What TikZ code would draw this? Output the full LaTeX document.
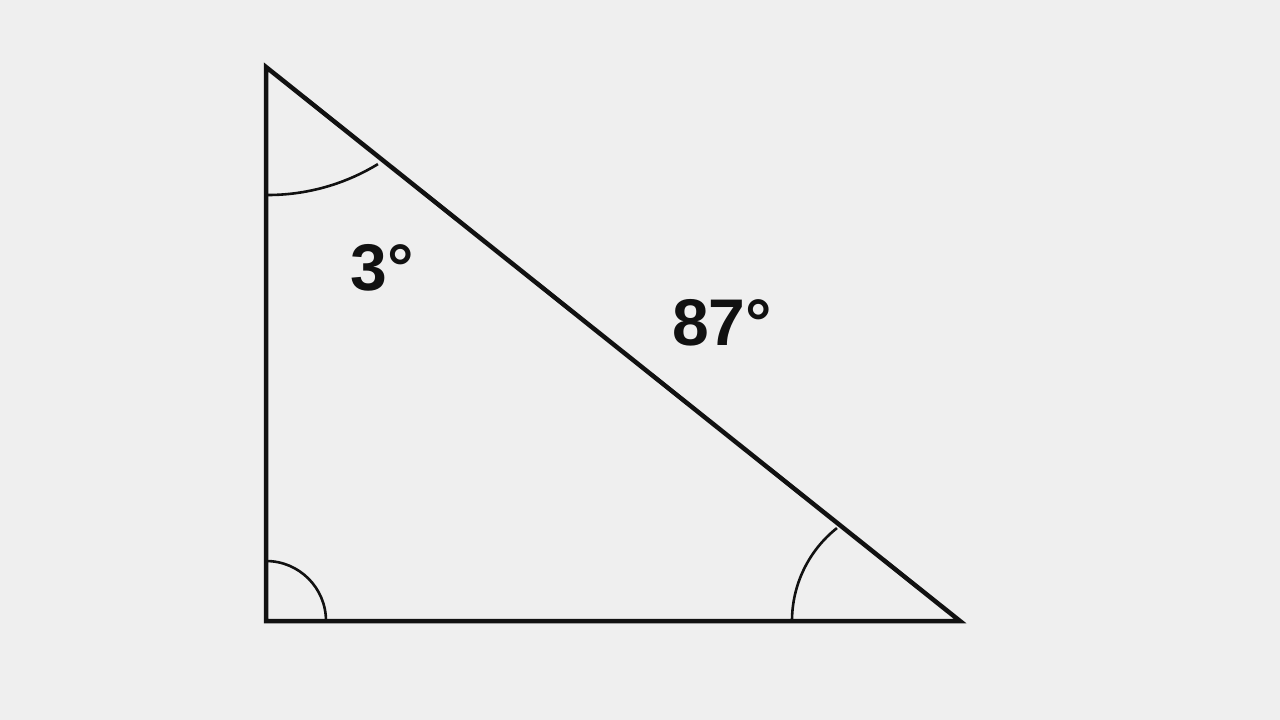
\documentclass[tikz,border=0pt]{standalone}
\usepackage{fontspec}
\setmainfont{Liberation Sans}
\definecolor{bgc}{HTML}{EFEFEF}
\definecolor{ink}{HTML}{111111}
\begin{document}
\begin{tikzpicture}[x=1pt,y=-1pt,
  side/.style={draw=ink,line width=4.5pt,line join=miter},
  anglearc/.style={draw=ink,line width=2.6pt},
  lbl/.style={text=ink,inner sep=0pt,font=\fontsize{66}{70}\selectfont\bfseries}]
\fill[bgc] (0,0) rectangle (1280,720);
\useasboundingbox (0,0) rectangle (1280,720);
\coordinate (A) at (266,67);
\coordinate (B) at (266,621);
\coordinate (C) at (960,621);
\draw[side] (A) -- (B) -- (C) -- cycle;
% angle at top
\draw[anglearc] (268,195) arc[start angle=90,end angle=58.6,radius=211];
% right angle arc
\draw[anglearc] (266,561) arc[start angle=-90,end angle=0,radius=60];
% angle at right
\draw[anglearc] (792,621) arc[start angle=180,end angle=231.6,radius=118.6];
\node[lbl] (a3) at (382,268) {3°};
\node[lbl] (a87) at (722,323) {87°};
\end{tikzpicture}
\end{document}
